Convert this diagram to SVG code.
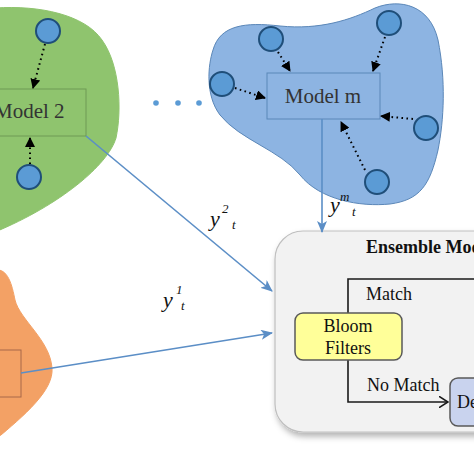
<svg xmlns="http://www.w3.org/2000/svg" width="474" height="474" viewBox="0 0 474 474">
<defs>
<style>
.blob-g{fill:#8fc46e;stroke:#8fc46e;stroke-width:1}
.blob-b{fill:#8db4e2;stroke:#5b87b8;stroke-width:1}
.blob-o{fill:#f3a165;stroke:#f3a165;stroke-width:1}
.src{fill:#5b9bd5;stroke:#1f4e79;stroke-width:2}
.dot{fill:none;stroke:#000;stroke-width:2;stroke-dasharray:1.6 3.4}
.conn{fill:none;stroke:#5b8ec6;stroke-width:1.6}
.flow{fill:none;stroke:#1a1a1a;stroke-width:1.6}
.lbl{font-family:"Liberation Serif",serif;font-size:21px;fill:#333}
.math{font-family:"Liberation Serif",serif;font-style:italic;fill:#111}
.txt{font-family:"Liberation Serif",serif;font-size:18px;fill:#111}
</style>
<marker id="tri" viewBox="0 0 10 10" refX="9" refY="5" markerWidth="10" markerHeight="10" markerUnits="userSpaceOnUse" orient="auto">
<path d="M0,0 L10,5 L0,10 Z" fill="#000"/>
</marker>
<marker id="barb" viewBox="0 0 12 10" refX="11" refY="5" markerWidth="12" markerHeight="10" markerUnits="userSpaceOnUse" orient="auto">
<path d="M0,0 L12,5 L0,10 L3,5 Z" fill="#5b8ec6"/>
</marker>
<marker id="open" viewBox="0 0 10 12" refX="9.5" refY="6" markerWidth="10" markerHeight="12" markerUnits="userSpaceOnUse" orient="auto">
<path d="M0,0 L9.5,6 L0,12" fill="none" stroke="#1a1a1a" stroke-width="1.6"/>
</marker>
<filter id="sh" x="-10%" y="-10%" width="130%" height="130%">
<feDropShadow dx="2" dy="4" stdDeviation="3" flood-color="#000" flood-opacity="0.3"/>
</filter>
</defs>
<rect width="474" height="474" fill="#fff"/>

<g id="model2">
<path class="blob-g" d="M -5,8 C 40,5 85,15 102,40 C 120,65 122,110 116,138 C 108,165 60,205 -5,232 Z"/>
<rect x="-20" y="89" width="106" height="47" fill="#8fc46e" stroke="#6f9a55" stroke-width="1"/>
<text class="lbl" x="-6" y="118">Model 2</text>
<circle class="src" cx="48" cy="31" r="12"/>
<circle class="src" cx="29" cy="177" r="12"/>
<line class="dot" x1="45" y1="44" x2="33" y2="88" marker-end="url(#tri)"/>
<line class="dot" x1="30" y1="164" x2="30" y2="138" marker-end="url(#tri)"/>
</g>

<g id="modelm">
<path class="blob-b" d="M 213,50 C 220,25 245,22 280,26 C 320,30 350,20 375,8 C 400,-2 430,5 438,40 C 446,80 444,120 438,150 C 430,185 420,200 390,204 C 360,207 320,200 300,175 C 280,150 240,140 220,115 C 205,95 208,65 213,50 Z"/>
<rect x="267" y="73" width="113" height="46" fill="#8db4e2" stroke="#5b87b8" stroke-width="1"/>
<text class="lbl" x="323" y="103" text-anchor="middle">Model m</text>
<circle class="src" cx="271" cy="39" r="12"/>
<circle class="src" cx="389" cy="23" r="12"/>
<circle class="src" cx="222" cy="84" r="12"/>
<circle class="src" cx="426" cy="128" r="12"/>
<circle class="src" cx="377" cy="182" r="12"/>
<line class="dot" x1="278" y1="52" x2="290" y2="71" marker-end="url(#tri)"/>
<line class="dot" x1="385" y1="37" x2="373" y2="71" marker-end="url(#tri)"/>
<line class="dot" x1="235" y1="88" x2="265" y2="98" marker-end="url(#tri)"/>
<line class="dot" x1="413" y1="119" x2="381" y2="116" marker-end="url(#tri)"/>
<line class="dot" x1="365" y1="170" x2="341" y2="122" marker-end="url(#tri)"/>
</g>

<g id="model1">
<path class="blob-o" d="M -5,270 C 8,268 12,285 15,300 C 20,320 50,340 52,368 C 54,390 25,415 -5,440 Z"/>
<rect x="-20" y="350" width="41" height="47" fill="#f3a165" stroke="#a8684a" stroke-width="1"/>
</g>

<g id="ellipsis" fill="#5b9bd5">
<circle cx="156" cy="103" r="2.8"/>
<circle cx="178" cy="103" r="2.8"/>
<circle cx="199" cy="103" r="2.8"/>
</g>

<g id="ensemble">
<rect x="275" y="231" width="240" height="201" rx="28" fill="#f2f2f2" stroke="#bfbfbf" stroke-width="1.2" filter="url(#sh)"/>
<text class="txt" x="366" y="253" font-size="17" font-weight="bold">Ensemble Model</text>
</g>

<g id="connectors">
<line class="conn" x1="86" y1="136" x2="272" y2="291" marker-end="url(#barb)"/>
<line class="conn" x1="21" y1="373" x2="272" y2="333" marker-end="url(#barb)"/>
<line class="conn" x1="322" y1="119" x2="322" y2="232" marker-end="url(#barb)"/>
<polyline class="flow" points="480,279 348,279 348,313"/>
<polyline class="flow" points="348,360 348,402 448,402" marker-end="url(#open)"/>
</g>

<g id="labels">
<text class="math" x="210" y="226" font-size="22">y</text>
<text class="math" x="222" y="213" font-size="13">2</text>
<text class="math" x="232" y="229" font-size="13">t</text>
<text class="math" x="330" y="212" font-size="22">y</text>
<text class="math" x="340" y="201" font-size="13">m</text>
<text class="math" x="352" y="216" font-size="13">t</text>
<text class="math" x="163" y="307" font-size="22">y</text>
<text class="math" x="176" y="294" font-size="13">1</text>
<text class="math" x="181" y="310" font-size="13">t</text>
<text class="txt" x="366" y="300">Match</text>
<text class="txt" x="367" y="391">No Match</text>
</g>

<g id="bloom">
<rect x="295" y="313" width="107" height="47" rx="8" fill="#ffff99" stroke="#595959" stroke-width="1.5"/>
<text class="txt" x="348" y="332" text-anchor="middle">Bloom</text>
<text class="txt" x="348" y="354" text-anchor="middle">Filters</text>
</g>

<g id="detector">
<rect x="450" y="378" width="60" height="48" rx="8" fill="#c9d3ee" stroke="#595959" stroke-width="1.5"/>
<text class="txt" x="457" y="408">De</text>
</g>
</svg>
